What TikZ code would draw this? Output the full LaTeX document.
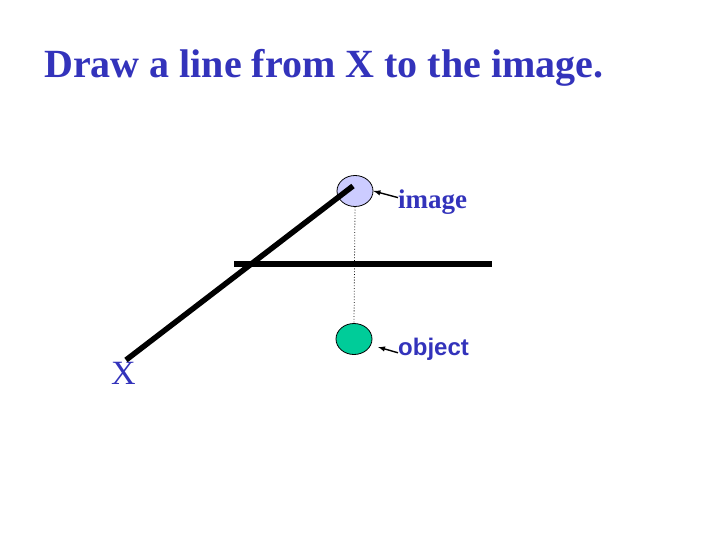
\documentclass[tikz,border=0pt]{standalone}
\usepackage{fontspec}
\setmainfont{Liberation Serif}
\setsansfont{Liberation Sans}
\usetikzlibrary{shapes,arrows,positioning}
\definecolor{txtblue}{RGB}{51,51,187}
\definecolor{imgfill}{RGB}{204,204,255}
\definecolor{objfill}{RGB}{0,204,153}

\begin{document}
\begin{tikzpicture}[x=1pt,y=-1pt]
  \tikzstyle{ball}=[ellipse, draw=black, line width=0.8pt, minimum width=36pt, minimum height=31pt, inner sep=0pt]
  \tikzstyle{lbl}=[text=txtblue, inner sep=0pt, anchor=base west]
  \tikzstyle{pointer}=[-latex, line width=1.4pt, black]
  \tikzstyle{bar}=[line width=6pt, black]

  \useasboundingbox (0,0) rectangle (720,540);

  % Titulo
  \node[lbl, font=\fontsize{40}{48}\selectfont\bfseries] (title) at (44,78) {Draw a line from X to the image.};

  % Espejo
  \coordinate (mirL) at (234,264);
  \coordinate (mirR) at (492,264);
  \draw[bar] (mirL) -- (mirR);

  % Imagen y objeto
  \node[ball, fill=imgfill] (img) at (355,191) {};
  \node[ball, fill=objfill] (obj) at (354,339) {};
  \draw[dotted, line width=0.8pt] (img.south) -- (obj.north);

  % Linea desde X
  \node[lbl, font=\fontsize{34}{40}\selectfont] (xmark) at (111,384) {X};
  \coordinate (xstart) at (126,360);
  \coordinate (imgtip) at (353,186);
  \draw[bar, line width=5.5pt] (xstart) -- (imgtip);

  % Etiquetas
  \node[lbl, font=\fontsize{27}{30}\selectfont\bfseries] (imglbl) at (398,208) {image};
  \node[lbl, font=\fontsize{24}{28}\sffamily\bfseries] (objlbl) at (398,355) {object};
  \coordinate (objtip) at (378,347);
  \draw[pointer] ([yshift=4pt]imglbl.west) -- (img.east);
  \draw[pointer] ([yshift=-4pt]objlbl.west) -- (objtip);
\end{tikzpicture}
\end{document}
